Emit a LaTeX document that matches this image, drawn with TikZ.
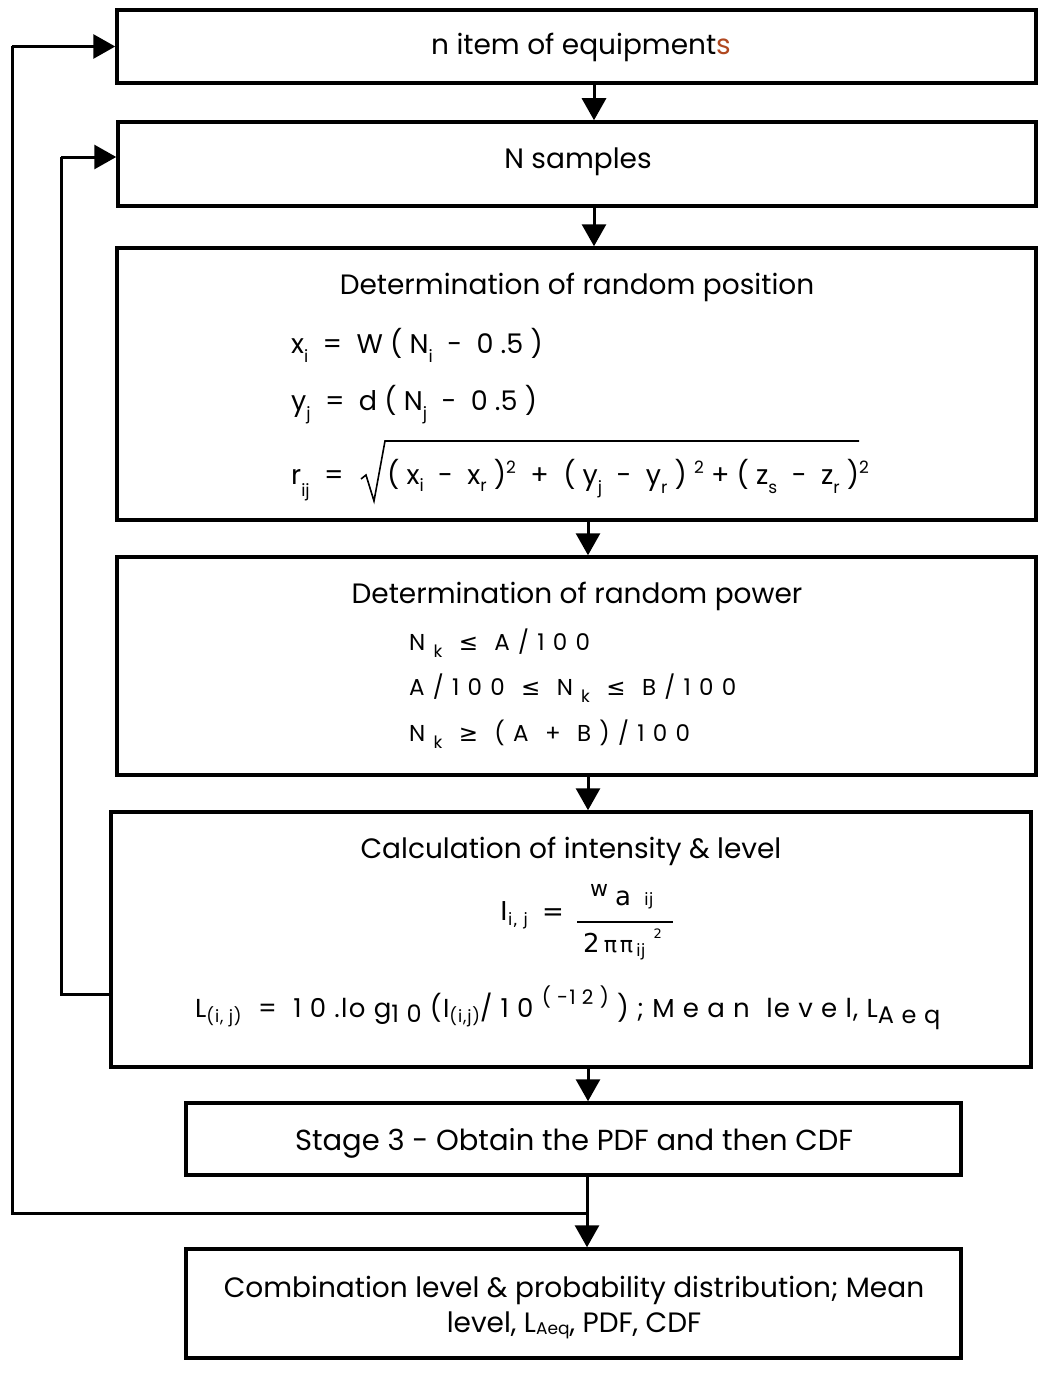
\documentclass[tikz,border=0pt]{standalone}
\usepackage{fontspec}
\setmainfont{Poppins}
\newfontfamily\symf{DejaVu Sans}
\usetikzlibrary{arrows.meta}
\definecolor{sorange}{RGB}{176,72,32}
\newcommand\sbs[2][7]{\raisebox{-#1pt}{\fontsize{17}{17}\selectfont #2}}
\newcommand\sps[2][11]{\raisebox{#1pt}{\fontsize{17}{17}\selectfont #2}}
\begin{document}
\begin{tikzpicture}[x=1pt,y=-1pt,
  boxs/.style={draw, line width=3.5pt, inner sep=0pt},
  conn/.style={line width=3pt},
  arr/.style={conn, -{Triangle[length=22pt,width=24pt]}},
  ttl/.style={font=\fontsize{28}{35}\selectfont, anchor=base, inner sep=0pt, align=center},
  eq/.style={font=\fontsize{27}{30}\selectfont, anchor=base west, inner sep=0pt},
  eqs/.style={font=\fontsize{23}{26}\selectfont\addfontfeature{LetterSpace=9}, anchor=base west, inner sep=0pt},
  fr/.style={font=\symf\fontsize{26}{28}\selectfont, anchor=base west, inner sep=0pt},
]
\useasboundingbox (0,0) rectangle (1059,1378);
\fill[white] (0,0) rectangle (1059,1378);

% boxes
\node[boxs, minimum width=919pt, minimum height=73pt]  (b1) at (576.5,46.5) {};
\node[boxs, minimum width=918pt, minimum height=84pt]  (b2) at (577,164) {};
\node[boxs, minimum width=919pt, minimum height=272pt] (b3) at (576.5,384) {};
\node[boxs, minimum width=919pt, minimum height=218pt] (b4) at (576.5,666) {};
\node[boxs, minimum width=920pt, minimum height=255pt] (b5) at (571,939.5) {};
\node[boxs, minimum width=775pt, minimum height=72pt]  (b6) at (573.5,1139) {};
\node[boxs, minimum width=775pt, minimum height=109pt] (b7) at (573.5,1303.5) {};

% titles
\node[ttl] (t1) at (581,55) {n item of equipment\textcolor{sorange}{s}};
\node[ttl] (t2) at (578,168) {N samples};
\node[ttl] (t3) at (577,294) {Determination of random position};
\node[ttl] (t4) at (577,603) {Determination of random power};
\node[ttl] (t5) at (571,858) {Calculation of intensity \& level};
\node[ttl, font=\fontsize{29}{35}\selectfont] (t6) at (574,1150) {Stage 3 - Obtain the PDF and then CDF};
\node[ttl] (t7) at (574,1332) {Combination level \& probability distribution; Mean\\level, L\sbs[2]{Aeq}, PDF, CDF};

% box 3 equations
\node[eq] (e1) at (291,353) {x\sbs[9]{i} \ = \ W ( N\sbs[9]{i} \ - \ 0 .5 )};
\node[eq] (e2) at (291,410) {y\sbs[9]{j} \ = \ d ( N\sbs[9]{j} \ - \ 0 .5 )};
\node[eq] (e3a) at (291,484) {r\sbs[12]{ij} \ =};
\node[eq] (e3b) at (387,484) {( x\sbs{i} \ - \ x\sbs{r} )\sps{2} \ + \ ( y\sbs[9]{j} \ - \ y\sbs[9]{r} ) \sps{2} + ( z\sbs[9]{s} \ - \ z\sbs[9]{r} )\sps{2}};
\draw[line width=1.6pt, line join=miter] (361,479) -- (366,475) -- (374,501) -- (385,441) -- (859,441);

% box 4 equations
\node[eqs] (p1) at (409,650) {N \sbs{k} \ {\symf ≤} \ A / 1 0 0};
\node[eqs] (p2) at (409,695) {A / 1 0 0 \ {\symf ≤} \ N \sbs{k} \ {\symf ≤} \ B / 1 0 0};
\node[eqs] (p3) at (409,741) {N \sbs{k} \ {\symf ≥} \ ( A \ + \ B ) / 1 0 0};

% box 5 equations
\node[fr] (i1) at (500,920) {I\raisebox{-5pt}{\fontsize{17}{17}\selectfont i, j}\hspace{14pt}=};
\node[fr] (fn) at (590,905) {\raisebox{9pt}{\fontsize{22}{22}\selectfont w}\hspace{7pt}a\hspace{13pt}{\fontsize{17}{17}\selectfont ij}};
\node[fr] (fd) at (583,952) {2\hspace{4pt}{\fontsize{22}{22}\selectfont π\hspace{3pt}π}\hspace{3pt}\raisebox{-4pt}{\fontsize{17}{17}\selectfont ij}\hspace{8pt}\raisebox{14pt}{\fontsize{13}{13}\selectfont 2}};
\draw[line width=1.2pt] (577,922) -- (673,922);
\node[eq, font=\fontsize{26}{30}\selectfont\addfontfeature{LetterSpace=5}] (lq) at (195,1017) {L\sbs[5]{(i, j)} \ = \ 1 0 .lo g\sbs[5]{\fontsize{24}{24}\selectfont 1 0} (I\sbs[5]{(i,j)}/ 1 0 \sps[13]{\fontsize{20}{20}\selectfont ( -1 2 )} ) ; M e a n \ le v e l, L\sbs[6]{\fontsize{24}{24}\selectfont A e q}};

% vertical arrows
\draw[arr] ([xshift=17.5pt]b1.south) -- ([xshift=17.5pt]b1.south |- b2.north);
\draw[arr] ([xshift=17pt]b2.south) -- ([xshift=17pt]b2.south |- b3.north);
\draw[arr] ([xshift=11.5pt]b3.south) -- ([xshift=11.5pt]b3.south |- b4.north);
\draw[arr] ([xshift=11.5pt]b4.south) -- ([xshift=11.5pt]b4.south |- b5.north);
\draw[arr] ([xshift=17pt]b5.south) -- ([xshift=17pt]b5.south |- b6.north);
\draw[arr] ([xshift=13.5pt]b6.south) -- ([xshift=13.5pt]b6.south |- b7.north);

% feedback loops
\coordinate (j) at (587,1213);
\coordinate (lo) at (12,46.5);
\draw[conn] (j) -| (lo);
\draw[arr] (lo) -- (b1.west);
\coordinate (li) at (61,157);
\draw[conn] ([yshift=-54.5pt]b5.west) -| (li);
\draw[arr] (li) -- (li -| b2.west);
\end{tikzpicture}
\end{document}
